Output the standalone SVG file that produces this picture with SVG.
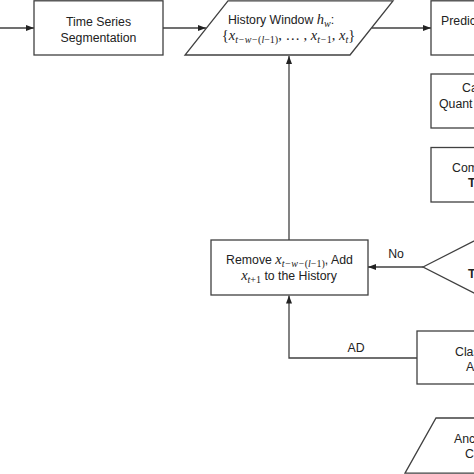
<svg xmlns="http://www.w3.org/2000/svg" width="474" height="474" viewBox="0 0 474 474">
<style>
.box{fill:#fff;stroke:#404040;stroke-width:1.3}
.ln{fill:none;stroke:#404040;stroke-width:1.3}
.t{font-family:"Liberation Sans",Arial,sans-serif;font-size:12.3px;fill:#222}
.b{font-weight:bold}
.m{font-family:"Liberation Serif","Times New Roman",serif;font-style:italic;font-size:14.5px}
.s{font-size:10px}
.r{font-style:normal}
</style>
<defs>
<marker id="ah" markerUnits="userSpaceOnUse" markerWidth="8" markerHeight="8" viewBox="0 0 8 8" refX="8" refY="4" orient="auto">
<path d="M0,1 L8,4 L0,7 Z" fill="#222"/>
</marker>
</defs>
<rect width="474" height="474" fill="#fff"/>

<g id="connectors">
<line class="ln" x1="0" y1="28" x2="34" y2="28" marker-end="url(#ah)"/>
<line class="ln" x1="163" y1="28" x2="206" y2="28" marker-end="url(#ah)"/>
<line class="ln" x1="372" y1="28" x2="431" y2="28" marker-end="url(#ah)"/>
<line class="ln" x1="289" y1="240" x2="289" y2="56" marker-end="url(#ah)"/>
<line class="ln" x1="423" y1="267" x2="368" y2="267" marker-end="url(#ah)"/>
<polyline class="ln" points="417,358 289,358 289,295.5" marker-end="url(#ah)"/>
<text class="t" x="396" y="257.5" text-anchor="middle">No</text>
<text class="t" x="356" y="351.5" text-anchor="middle">AD</text>
</g>

<g id="segmentation">
<rect class="box" x="34" y="0.8" width="129" height="54.2"/>
<text class="t" x="98.5" y="25.5" text-anchor="middle">Time Series</text>
<text class="t" x="98.5" y="41.5" text-anchor="middle">Segmentation</text>
</g>

<g id="history">
<polygon class="box" points="228,0.8 393,0.8 350,55 185,55"/>
<text class="t" x="281" y="24" text-anchor="middle">History Window <tspan class="m">h</tspan><tspan class="m s" dy="2.5">w</tspan><tspan dy="-2.5">:</tspan></text>
<text class="t" x="288.5" y="40" text-anchor="middle"><tspan class="m r" font-size="16">{</tspan><tspan class="m">x</tspan><tspan class="m s" dy="3">t−w−</tspan><tspan class="m s r">(</tspan><tspan class="m s">l</tspan><tspan class="m s r">−1)</tspan><tspan class="m r" dy="-3">, … , </tspan><tspan class="m">x</tspan><tspan class="m s" dy="3">t−</tspan><tspan class="m s r">1</tspan><tspan class="m r" dy="-3">, </tspan><tspan class="m">x</tspan><tspan class="m s" dy="3">t</tspan><tspan class="m r" font-size="16" dy="-3">}</tspan></text>
</g>

<g id="predict">
<rect class="box" x="431" y="0.8" width="60" height="54.2"/>
<text class="t" x="441" y="24.5">Predic</text>
</g>

<g id="quantile">
<rect class="box" x="431" y="74" width="60" height="54"/>
<text class="t" x="462" y="91.5">Ca</text>
<text class="t" x="439" y="107.5">Quant</text>
</g>

<g id="compute">
<rect class="box" x="431" y="147.5" width="60" height="54.5"/>
<text class="t" x="452" y="172">Com</text>
<text class="t b" x="468" y="187">T</text>
</g>

<g id="decision">
<polygon class="box" points="423,267 523,216 623,267 523,318"/>
<text class="t b" x="468" y="278">T</text>
</g>

<g id="remove">
<rect class="box" x="211" y="240" width="157" height="55"/>
<text class="t" x="289.5" y="263.5" text-anchor="middle">Remove <tspan class="m">x</tspan><tspan class="m s" dy="3">t−w−</tspan><tspan class="m s r">(</tspan><tspan class="m s">l</tspan><tspan class="m s r">−1)</tspan><tspan dy="-3">, Add</tspan></text>
<text class="t" x="289" y="280" text-anchor="middle"><tspan class="m">x</tspan><tspan class="m s" dy="3">t</tspan><tspan class="m s r">+1</tspan><tspan dy="-3"> to the History</tspan></text>
</g>

<g id="classify">
<rect class="box" x="417" y="331" width="70" height="53"/>
<text class="t" x="455" y="355.5">Clas</text>
<text class="t" x="466" y="371">A</text>
</g>

<g id="anchor">
<polygon class="box" points="436,418 600,418 570,473.2 405,473.2"/>
<text class="t" x="454" y="442.5">Anc</text>
<text class="t" x="465" y="457.5">Cl</text>
</g>
</svg>
